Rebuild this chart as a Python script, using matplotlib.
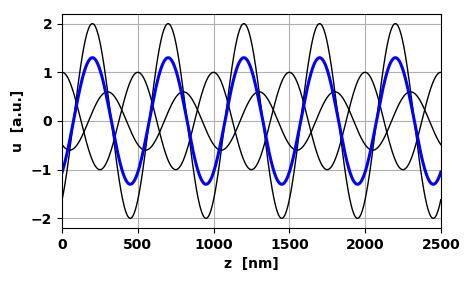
import numpy as np
import matplotlib
matplotlib.use("Agg")
import matplotlib.pyplot as plt

# wave parameters
wavelength = 500.0          # nm
amplitudes = [2.0, 1.0, 0.6, 1.3]
peak_pos = [200.0, 0.0, 300.0, 200.0]   # nm, position of a crest
colors = ['black', 'black', 'black', 'blue']
widths = [1.0, 1.0, 1.0, 2.2]

z = np.linspace(0, 2500, 1001)

plt.rcParams['font.weight'] = 'bold'
plt.rcParams['axes.labelweight'] = 'bold'
plt.rcParams['font.size'] = 10

fig = plt.figure(figsize=(4.74, 2.84), dpi=100)
ax = fig.add_axes([0.131, 0.197, 0.799, 0.754])

for a, p, c, w in zip(amplitudes, peak_pos, colors, widths):
    ax.plot(z, a * np.cos(2 * np.pi * (z - p) / wavelength), color=c, lw=w)

ax.set_xlim(0, 2500)
ax.set_ylim(-2.2, 2.2)
ax.set_xticks([0, 500, 1000, 1500, 2000, 2500])
ax.set_yticks([-2, -1, 0, 1, 2])
ax.grid(True, color='#b0b0b0', lw=0.8)
ax.set_axisbelow(True)
ax.set_xlabel('z  [nm]')
ax.set_ylabel('u  [a.u.]')

fig.savefig('out.png', dpi=100)
